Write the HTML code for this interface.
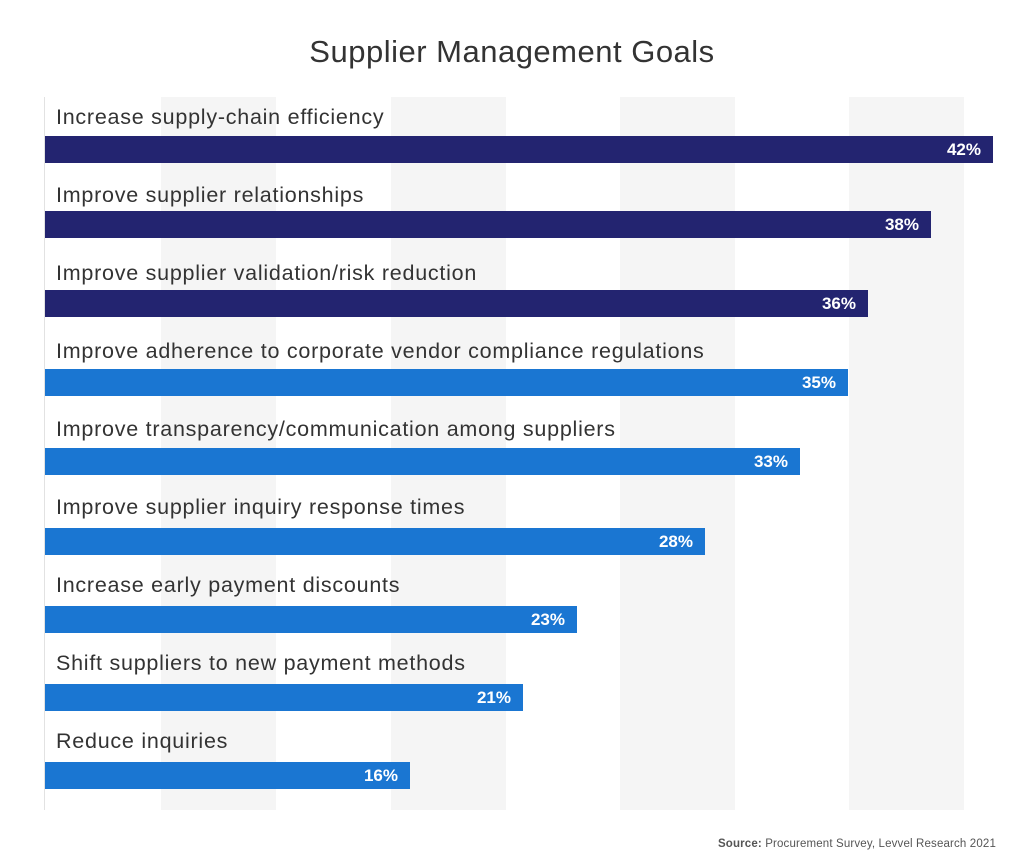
<!DOCTYPE html>
<html><head><style>
body{margin:0;width:1024px;height:868px;background:#fff;position:relative;overflow:hidden;font-family:"Liberation Sans",sans-serif;}
.s{position:absolute;top:97px;height:713px;width:115px;background:#f5f5f5;}
.ax{position:absolute;left:44px;top:97px;width:1px;height:713px;background:#e2e2e2;}
.l{position:absolute;left:56px;font-size:21.5px;color:#333;line-height:24px;white-space:nowrap;letter-spacing:0.75px;}
.b{position:absolute;left:45px;height:27px;color:#fff;font-weight:bold;font-size:17px;line-height:27px;text-align:right;box-sizing:border-box;padding-right:12px;}
.d{background:#232470}.c{background:#1a76d2}
</style></head><body>
<div style="position:absolute;top:34px;width:1024px;text-align:center;font-size:31px;color:#333;letter-spacing:0.5px;">Supplier Management Goals</div>
<div class="s" style="left:161px"></div><div class="s" style="left:391px"></div><div class="s" style="left:620px"></div><div class="s" style="left:849px"></div>
<div class="ax"></div>
<div class="l" style="top:105px">Increase supply-chain efficiency</div>
<div class="b d" style="top:136px;width:948px">42%</div>
<div class="l" style="top:183px">Improve supplier relationships</div>
<div class="b d" style="top:211px;width:886px">38%</div>
<div class="l" style="top:261px">Improve supplier validation/risk reduction</div>
<div class="b d" style="top:290px;width:823px">36%</div>
<div class="l" style="top:339px">Improve adherence to corporate vendor compliance regulations</div>
<div class="b c" style="top:369px;width:803px">35%</div>
<div class="l" style="top:417px">Improve transparency/communication among suppliers</div>
<div class="b c" style="top:448px;width:755px">33%</div>
<div class="l" style="top:495px">Improve supplier inquiry response times</div>
<div class="b c" style="top:528px;width:660px">28%</div>
<div class="l" style="top:573px">Increase early payment discounts</div>
<div class="b c" style="top:606px;width:532px">23%</div>
<div class="l" style="top:651px">Shift suppliers to new payment methods</div>
<div class="b c" style="top:684px;width:478px">21%</div>
<div class="l" style="top:729px">Reduce inquiries</div>
<div class="b c" style="top:762px;width:365px">16%</div>
<div style="position:absolute;right:28px;top:838px;font-size:11.5px;color:#555;letter-spacing:0.15px;"><b>Source:</b> Procurement Survey, Levvel Research 2021</div>
</body></html>
